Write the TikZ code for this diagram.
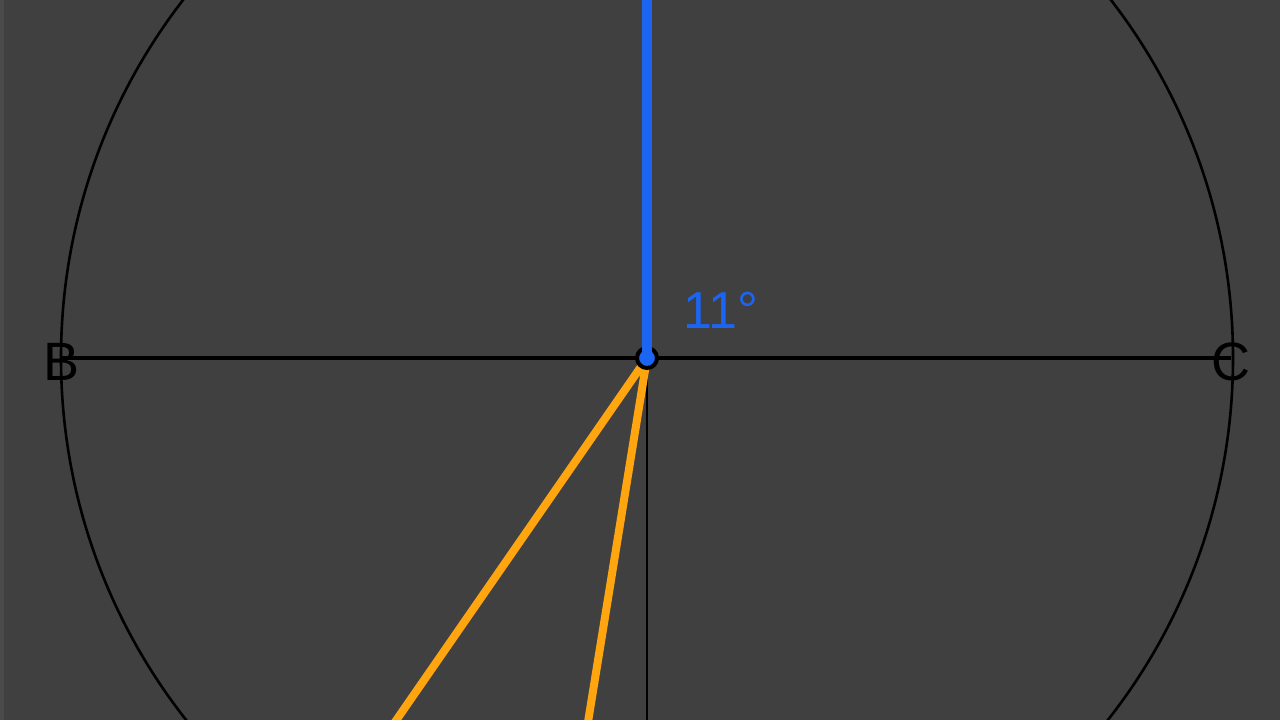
\documentclass[tikz,border=0pt]{standalone}
\usepackage{fontspec}
\setmainfont{Liberation Sans}
\definecolor{bg}{HTML}{404040}
\definecolor{strip}{HTML}{4A4A4A}
\definecolor{myblue}{HTML}{1C64F2}
\definecolor{myorange}{HTML}{FFA50F}
\tikzset{
  geo/.style={draw=black, line width=3.5pt},
  thin geo/.style={draw=black, line width=2.6pt},
  lbl/.style={font=\fontsize{54}{54}\selectfont, text=black, inner sep=0pt},
}
\begin{document}
\begin{tikzpicture}[x=1pt,y=-1pt]
\useasboundingbox (0,0) rectangle (1280,720);
\fill[bg] (0,0) rectangle (1280,720);
\fill[strip] (0,0) rectangle (4,720);
\begin{scope}
\clip (0,0) rectangle (1280,720);
\coordinate (O) at (647,358);
\coordinate (Bp) at (62,358);
\coordinate (Cp) at (1231,358);
\coordinate (top) at (647,0);
\coordinate (bot) at (647,720);
\coordinate (o1) at (395,722);
\coordinate (o2) at (588,722);
\draw[thin geo] (O) circle (586);
\draw[geo] (Bp) -- (Cp);
\draw[thin geo] (O) -- (bot);
\draw[myorange, line width=8pt, line join=round] (o1) -- (O) -- (o2);
\draw[black, line width=4pt, fill=myblue] (O) circle (10);
\draw[myblue, line width=10pt] (O) -- (top);
\end{scope}
\node[lbl] (B) at (62,362) {B};
\node[lbl] (C) at (1231,362) {C};
\node[font=\fontsize{52}{52}\selectfont, text=myblue, inner sep=0pt] (ang) at (721,310) {11°};
\end{tikzpicture}
\end{document}
